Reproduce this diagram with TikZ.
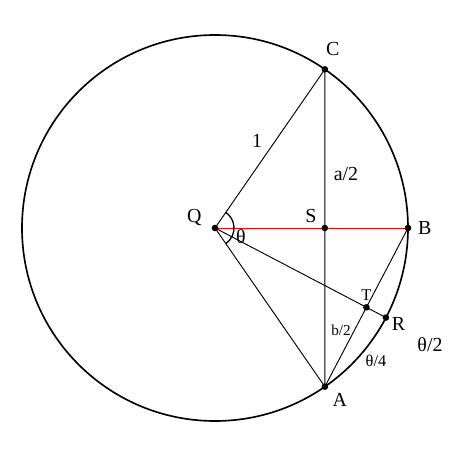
\documentclass[tikz,border=0pt]{standalone}
\usepackage{fontspec}
\setmainfont{Liberation Serif}
\usetikzlibrary{calc}
\begin{document}
\begin{tikzpicture}[line join=round,line cap=round,font=\fontsize{17}{20}\selectfont]
			\def\R{5.79}
			\def\t{55.3}
			\useasboundingbox (-6.45,-6.9) rectangle (7.26,6.84);
			\coordinate (Q) at (0,0);
			\coordinate (B) at (0:\R cm);
			\coordinate (C) at (\t:\R cm);
			\coordinate (A) at (-\t:\R cm);
			\coordinate (R) at (-\t/2:\R cm);
			\coordinate (S) at (C |- Q);
			\coordinate (T) at ($(A)!0.5!(B)$);
			\draw[line width=1.4pt] (Q) circle (\R cm);
			\draw[line width=0.8pt] (Q)--(C)--(A)--cycle;
			\draw[line width=0.8pt] (Q)--(R);
			\draw[line width=0.8pt] (A)--(B);
			\draw[red,line width=0.8pt] (Q)--(B);
			\draw[line width=1.1pt] (-\t:0.57) arc (-\t:\t:0.57);
			\foreach \p in {Q,B,C,A,R,S,T}{
				\fill[black] (\p) circle (2.8pt);
			}
			\node (lQ) at (-0.62,0.3) {Q};
			\node (lC) at ($(C)+(0.24,0.62)$) {C};
			\node (lS) at ($(S)+(-0.42,0.36)$) {S};
			\node (lB) at ($(B)+(0.5,0)$) {B};
			\node (lA) at ($(A)+(0.45,-0.39)$) {A};
			\node (lR) at ($(R)+(0.38,-0.2)$) {R};
			\node[font=\fontsize{14}{16}\selectfont] (lT) at ($(T)+(0,0.36)$) {T};
			\node (lt) at (0.78,-0.27) {θ};
			\node (lt2) at (6.45,-3.51) {θ/2};
			\node[font=\fontsize{14}{16}\selectfont] (lt4) at (4.83,-3.99) {θ/4};
			\node[font=\fontsize{13}{15}\selectfont] (lb) at (3.78,-3.06) {b/2};
			\node (la) at (3.93,1.62) {a/2};
			\node (l1) at (1.26,2.61) {1};
		\end{tikzpicture}
\end{document}
